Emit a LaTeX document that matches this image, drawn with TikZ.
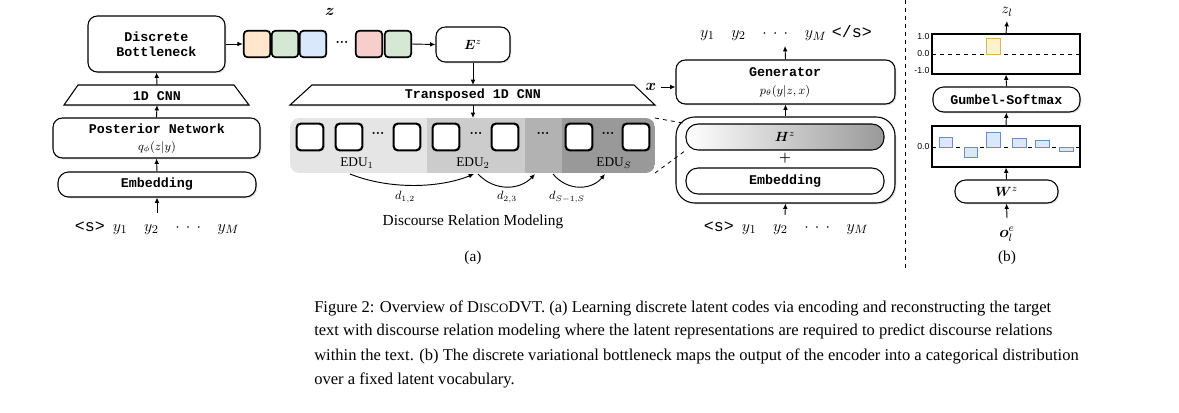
\documentclass[tikz,border=0pt]{standalone}
\usepackage{fontspec}
\usepackage{amsmath,bm}
\setmonofont{Liberation Mono}
\newfontfamily\capfont{Liberation Serif}
\newfontfamily\axfont{Liberation Sans}
\usetikzlibrary{fit,shadows,arrows.meta,calc}
\definecolor{cOr}{HTML}{FFE6CC}
\definecolor{cGr}{HTML}{D5E8D4}
\definecolor{cBl}{HTML}{DAE8FC}
\definecolor{cRd}{HTML}{F8CECC}
\definecolor{cYe}{HTML}{FFF2CC}
\definecolor{sYe}{HTML}{D6B656}
\definecolor{sBl}{HTML}{6C8EBF}
\begin{document}
\begin{tikzpicture}[x=0.75pt,y=-0.75pt,
  box/.style={draw,line width=0.8pt,rounded corners=7pt,fill=white,inner sep=0pt,drop shadow={opacity=0.25,shadow xshift=1pt,shadow yshift=-1pt}},
  pill/.style={box,rounded corners=8pt},
  sq/.style={draw,line width=1.6pt,rounded corners=3pt,fill=white,minimum size=20pt,inner sep=0pt},
  csq/.style={draw,line width=1.3pt,rounded corners=3pt,minimum size=20pt,inner sep=0pt},
  mono/.style={font=\ttfamily\bfseries\fontsize{10}{11.5}\selectfont},
  arr/.style={-{Latex[length=4pt,width=3.5pt]},line width=0.7pt},
  tok/.style={font=\fontsize{12.5}{14}\selectfont,inner sep=0pt},
  edu/.style={font=\capfont\fontsize{10}{12}\selectfont,inner sep=1pt},
  ax/.style={font=\axfont\fontsize{6.5}{7}\selectfont,anchor=east,inner sep=1pt},
  captext/.style={font=\capfont\fontsize{12.4}{15}\selectfont,anchor=west,inner sep=0pt},
  plotbox/.style={draw,line width=0.8pt,fill=white,inner sep=0pt,drop shadow={opacity=0.25,shadow xshift=1pt,shadow yshift=-1pt}},
  bar/.style={line width=0.6pt}]
\useasboundingbox (0,0) rectangle (1179,412);

% ---------- left encoder ----------
\node[box,fit={(88,16)(225,72)}] (db) {};
\node[mono,align=center] (dbt) at (db.center) {Discrete\\Bottleneck};
\coordinate (cnnA) at (78,85); \coordinate (cnnB) at (234,85);
\coordinate (cnnC) at (249,105); \coordinate (cnnD) at (64,105);
\draw[line width=0.8pt,fill=white,drop shadow={opacity=0.25,shadow xshift=1pt,shadow yshift=-1pt}] (cnnA)--(cnnB)--(cnnC)--(cnnD)--cycle;
\node[mono] (cnn) at (157,96) {1D CNN};
\node[box,fit={(53,118)(260,158)}] (post) {};
\node[mono] (postt) at (157,129) {Posterior Network};
\node[font=\fontsize{9}{10}\selectfont] (postq) at (157,147) {$q_\phi(z|y)$};
\node[pill,fit={(58,172)(256,197)}] (emb1) {};
\node[mono] at (emb1.center) {Embedding};
\node[tok] (in1) at (157,228) {\texttt{<s>}\, $y_1$\quad $y_2$\quad $\mathbf{\cdot\,\cdot\,\cdot}$\quad $y_M$};
\coordinate (in1t) at (157,213);
\draw[arr] (in1t) -- (emb1.south);
\draw[arr] (emb1.north) -- (post.south);
\coordinate (cnnbot) at (157,105); \coordinate (cnntop) at (157,85);
\draw[arr] (post.north) -- (cnnbot);
\draw[arr] (cnntop) -- (db.south);

% ---------- latent codes ----------
\node[csq,fill=cOr] (c1) at (257,44) {};
\node[csq,fill=cGr] (c2) at (285,44) {};
\node[csq,fill=cBl] (c3) at (313,44) {};
\node[font=\bfseries] (cd) at (342,42) {...};
\node[csq,fill=cRd] (c4) at (369,44) {};
\node[csq,fill=cGr] (c5) at (398,44) {};
\node[font=\fontsize{12}{14}\selectfont] (zl) at (330,12) {$\bm z$};
\draw[arr] (db.east) -- (c1.west);
\node[box,fit={(436,27)(510,62)}] (ez) {};
\node at (ez.center) {$\bm E^{z}$};
\draw[arr] (c5.east) -- (ez.west);

% ---------- transposed CNN ----------
\coordinate (tA) at (312,85); \coordinate (tB) at (634,85);
\coordinate (tC) at (655,105); \coordinate (tD) at (290,105);
\draw[line width=0.8pt,fill=white,drop shadow={opacity=0.25,shadow xshift=1pt,shadow yshift=-1pt}] (tA)--(tB)--(tC)--(tD)--cycle;
\node[mono] (tcnn) at (473,95) {Transposed 1D CNN};
\coordinate (ttop) at (473,85); \coordinate (tbot) at (473,105);
\draw[arr] (ez.south) -- (ttop);

% ---------- EDU band ----------
\begin{scope}
\clip[rounded corners=7pt] (290,118) rectangle (655,173);
\fill[black!10] (290,118) rectangle (427,173);
\fill[black!20] (427,118) rectangle (525,173);
\fill[black!30] (525,118) rectangle (562,173);
\fill[black!40] (562,118) rectangle (655,173);
\end{scope}
\coordinate (bandtop) at (473,118);
\draw[arr] (tbot) -- (bandtop);
\foreach \n/\x in {s1/310,s2/349,s3/407,s4/446,s5/505,s6/579,s7/636}
  \node[sq] (\n) at (\x,137) {};
\node[font=\bfseries] at (378,133) {...};
\node[font=\bfseries] at (476,133) {...};
\node[font=\bfseries] at (543,133) {...};
\node[font=\bfseries] at (608,133) {...};
\node[edu] (e1) at (357,163) {EDU$_1$};
\node[edu] (e2) at (473,163) {EDU$_2$};
\node[edu] (eS) at (614,163) {EDU$_S$};
\coordinate (a1) at (350,174); \coordinate (a2) at (474,174);
\coordinate (a3) at (478,174); \coordinate (a4) at (535,174);
\coordinate (a5) at (553,174); \coordinate (a6) at (605,174);
\draw[arr] (a1) .. controls (390,190) and (440,188) .. (a2);
\draw[arr] (a3) .. controls (495,192) and (520,190) .. (a4);
\draw[arr] (a5) .. controls (568,192) and (592,190) .. (a6);
\node[font=\fontsize{9}{10}\selectfont] (d12) at (405,197) {$d_{1,2}$};
\node[font=\fontsize{9}{10}\selectfont] (d23) at (507,197) {$d_{2,3}$};
\node[font=\fontsize{9}{10}\selectfont] (dS) at (567,197) {$d_{S-1,S}$};
\node[font=\capfont\fontsize{11.5}{13}\selectfont] (drm) at (473,222) {Discourse Relation Modeling};
\node[font=\capfont\fontsize{11.5}{13}\selectfont] (pa) at (473,258) {(a)};

% ---------- decoder ----------
\node[box,fit={(676,60)(895,104)}] (gen) {};
\node[mono] (gent) at (785,72) {Generator};
\node[font=\fontsize{9}{10}\selectfont] (genp) at (785,91) {$p_\theta(y|z,x)$};
\node[tok] (out) at (786,33) {$y_1$\quad $y_2$\quad $\mathbf{\cdot\,\cdot\,\cdot}$\quad $y_M$ \texttt{</s>}};
\coordinate (outb) at (785,46);
\draw[arr] (gen.north) -- (outb);
\node[font=\fontsize{13}{14}\selectfont] (xl) at (651,87) {$\bm x$};
\draw[arr] (xl.east) -- (gen.west|-xl);
\node[box,rounded corners=14pt,fit={(676,117)(895,203)}] (outer) {};
\draw[arr] (outer.north) -- (gen.south);
\node[draw,line width=0.8pt,rounded corners=9pt,left color=white,right color=black!40,fit={(686,124)(884,150)},inner sep=0pt] (hz) {};
\node at (hz.center) {$\bm H^{z}$};
\node[font=\bfseries] (plus) at (785,158) {+};
\node[draw,line width=0.8pt,rounded corners=9pt,fill=white,fit={(686,168)(884,194)},inner sep=0pt] (emb2) {};
\node[mono] at (emb2.center) {Embedding};
\node[tok] (in2) at (786,228) {\texttt{<s>}\, $y_1$\quad $y_2$\quad $\mathbf{\cdot\,\cdot\,\cdot}$\quad $y_M$};
\coordinate (in2t) at (785,215);
\draw[arr] (in2t) -- (outer.south);
\coordinate (band1) at (655,118); \coordinate (band2) at (655,173);
\draw[dashed,line width=0.6pt] (band1) -- (hz.north west);
\draw[dashed,line width=0.6pt] (band2) -- (hz.south west);

% ---------- divider ----------
\coordinate (v1) at (905,0); \coordinate (v2) at (905,270);
\draw[dashed,line width=0.7pt] (v1) -- (v2);

% ---------- panel (b) ----------
\node[plotbox,fit={(932,34)(1080,74)}] (p1) {};
\draw[dashed,line width=0.6pt] (932,54) -- (1080,54);
\draw[bar,fill=cYe,draw=sYe] (986,38) rectangle (1000,54);
\node[ax] at (931,37) {1.0};
\node[ax] at (931,54) {0.0};
\node[ax] at (931,71) {-1.0};
\node[font=\fontsize{11}{12}\selectfont] (zlab) at (1007,12) {$z_l$};
\draw[arr] (p1.north) -- (zlab.south);
\node[pill,fit={(933,87)(1080,112)}] (gs) {};
\node[mono] at (gs.center) {Gumbel-Softmax};
\draw[arr] (gs.north) -- (p1.south);
\node[plotbox,fit={(932,126)(1080,167)}] (p2) {};
\draw[dashed,line width=0.6pt] (932,147) -- (1080,147);
\foreach \a/\b/\c in {939/952/137,964/977/157,986/1000/132,1012/1026/138,1035/1049/140,1059/1073/151}
  \draw[bar,fill=cBl,draw=sBl] (\a,147) rectangle (\b,\c);
\node[ax] at (931,147) {0.0};
\draw[arr] (p2.north) -- (gs.south);
\node[pill,fit={(955,180)(1058,203)}] (wz) {};
\node at (wz.center) {$\bm W^{z}$};
\draw[arr] (wz.north) -- (p2.south);
\node[font=\fontsize{12}{13}\selectfont,inner sep=1pt] (ole) at (1007,234) {$\bm o_l^{e}$};
\coordinate (olet) at (1007,218);
\draw[arr] (olet) -- (wz.south);
\node[font=\capfont\fontsize{11.5}{13}\selectfont] (pb) at (1007,258) {(b)};

% ---------- caption ----------
\node[captext] (l1) at (314,308) {Figure 2: Overview of D{\fontsize{9.6}{12}\selectfont ISCO}DVT. (a) Learning discrete latent codes via encoding and reconstructing the target};
\node[captext] (l2) at (314,332) {text with discourse relation modeling where the latent representations are required to predict discourse relations};
\node[captext] (l3) at (314,356) {within the text. (b) The discrete variational bottleneck maps the output of the encoder into a categorical distribution};
\node[captext] (l4) at (314,380) {over a fixed latent vocabulary.};
\end{tikzpicture}
\end{document}
